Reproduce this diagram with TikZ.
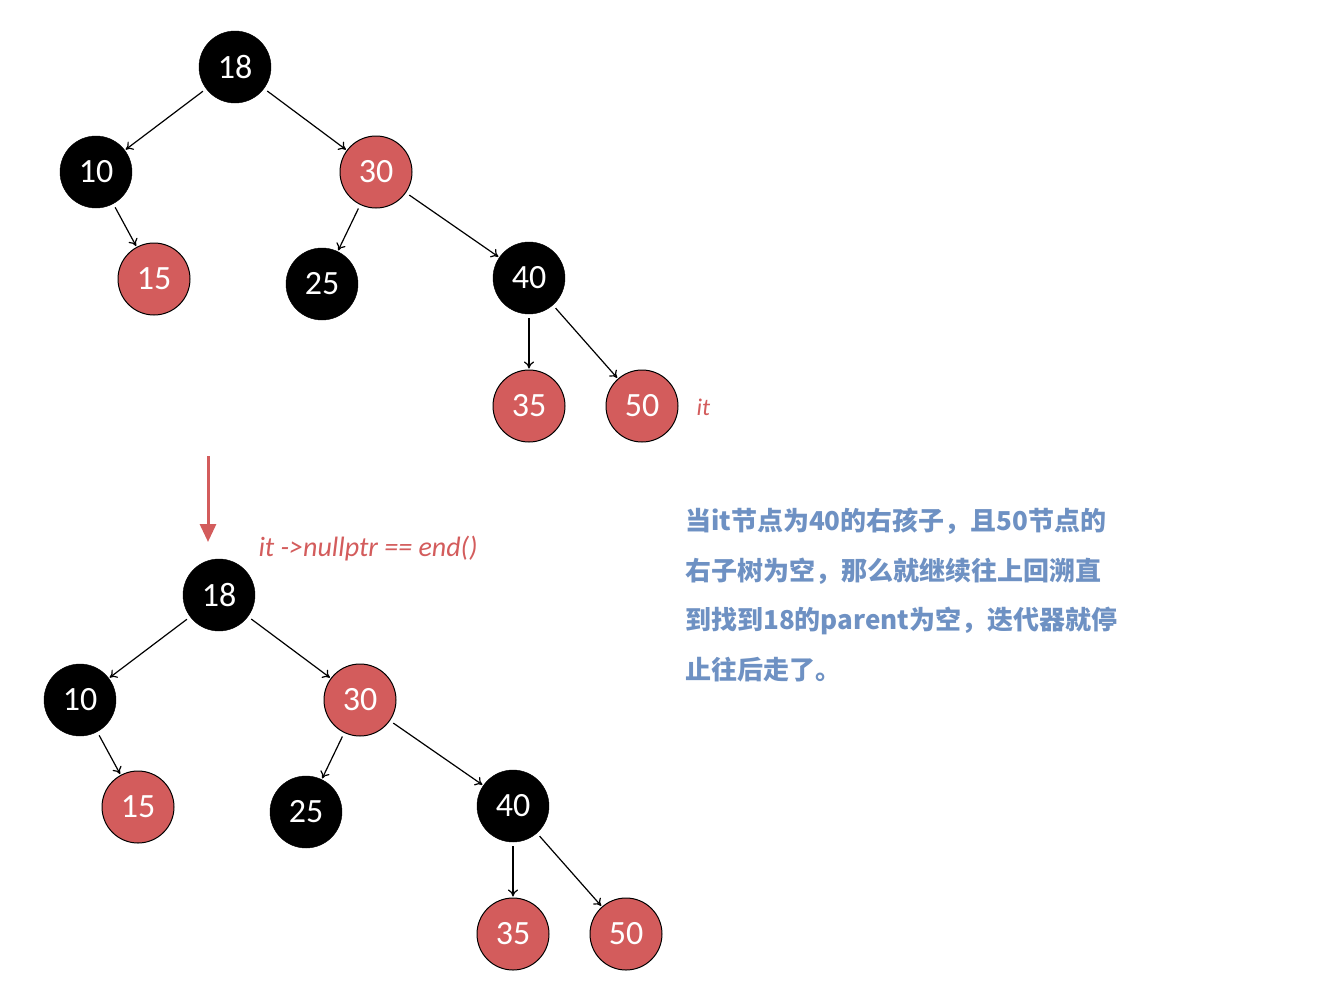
\documentclass[tikz,border=0pt]{standalone}
\usepackage{fontspec}
\setmainfont{Carlito}
\newfontfamily\cjk{Noto Sans CJK SC}
\usetikzlibrary{arrows.meta}
\definecolor{rb}{RGB}{211,92,92}
\definecolor{tb}{RGB}{110,145,195}
\begin{document}
\begin{tikzpicture}[x=1pt,y=-1pt,
  bn/.style={circle,fill=black,draw=black,minimum size=72pt,inner sep=0pt,text=white,font=\fontsize{34}{34}\selectfont},
  rn/.style={circle,fill=rb,draw=black,line width=1pt,minimum size=72pt,inner sep=0pt,text=white,font=\fontsize{34}{34}\selectfont},
  ed/.style={-{To[length=7pt,width=10pt]},line width=1.2pt,shorten <=4pt,shorten >=1pt}]
\useasboundingbox (0,0) rectangle (1322,1004);
\foreach \p/\dx/\dy in {t/0/0,b/-16/528}{
\begin{scope}[shift={(\dx,\dy)}]
\node[bn] (\p18) at (235,67) {18};
\node[bn] (\p10) at (96,172) {10};
\node[rn] (\p30) at (376,172) {30};
\node[rn] (\p15) at (154,279) {15};
\node[bn] (\p25) at (322,284) {25};
\node[bn] (\p40) at (529,278) {40};
\node[rn] (\p35) at (529,406) {35};
\node[rn] (\p50) at (642,406) {50};
\end{scope}
\draw[ed] (\p18) -- (\p10);
\draw[ed] (\p18) -- (\p30);
\draw[ed] (\p10) -- (\p15);
\draw[ed] (\p30) -- (\p25);
\draw[ed] (\p30) -- (\p40);
\draw[ed] (\p40) -- (\p35);
\draw[ed] (\p40) -- (\p50);
}
\node[text=rb,font=\itshape\fontsize{24}{24}\selectfont,anchor=west] (itl) at (693,407) {it};
\node[text=rb,font=\itshape\fontsize{28}{28}\selectfont,anchor=west] (nl) at (255,549) {it ->nullptr == end()};
\coordinate (a1) at (208,456);
\coordinate (a2) at (208,542);
\draw[rb,line width=3pt,-{Triangle[length=18pt,width=16pt]}] (a1) -- (a2);
\node[text=tb,font=\cjk\bfseries\fontsize{26}{49.5}\selectfont,anchor=north west,align=left,inner sep=0pt] (txt) at (685,508) {当it节点为40的右孩子，且50节点的\\右子树为空，那么就继续往上回溯直\\到找到18的parent为空，迭代器就停\\止往后走了。};
\end{tikzpicture}
\end{document}
